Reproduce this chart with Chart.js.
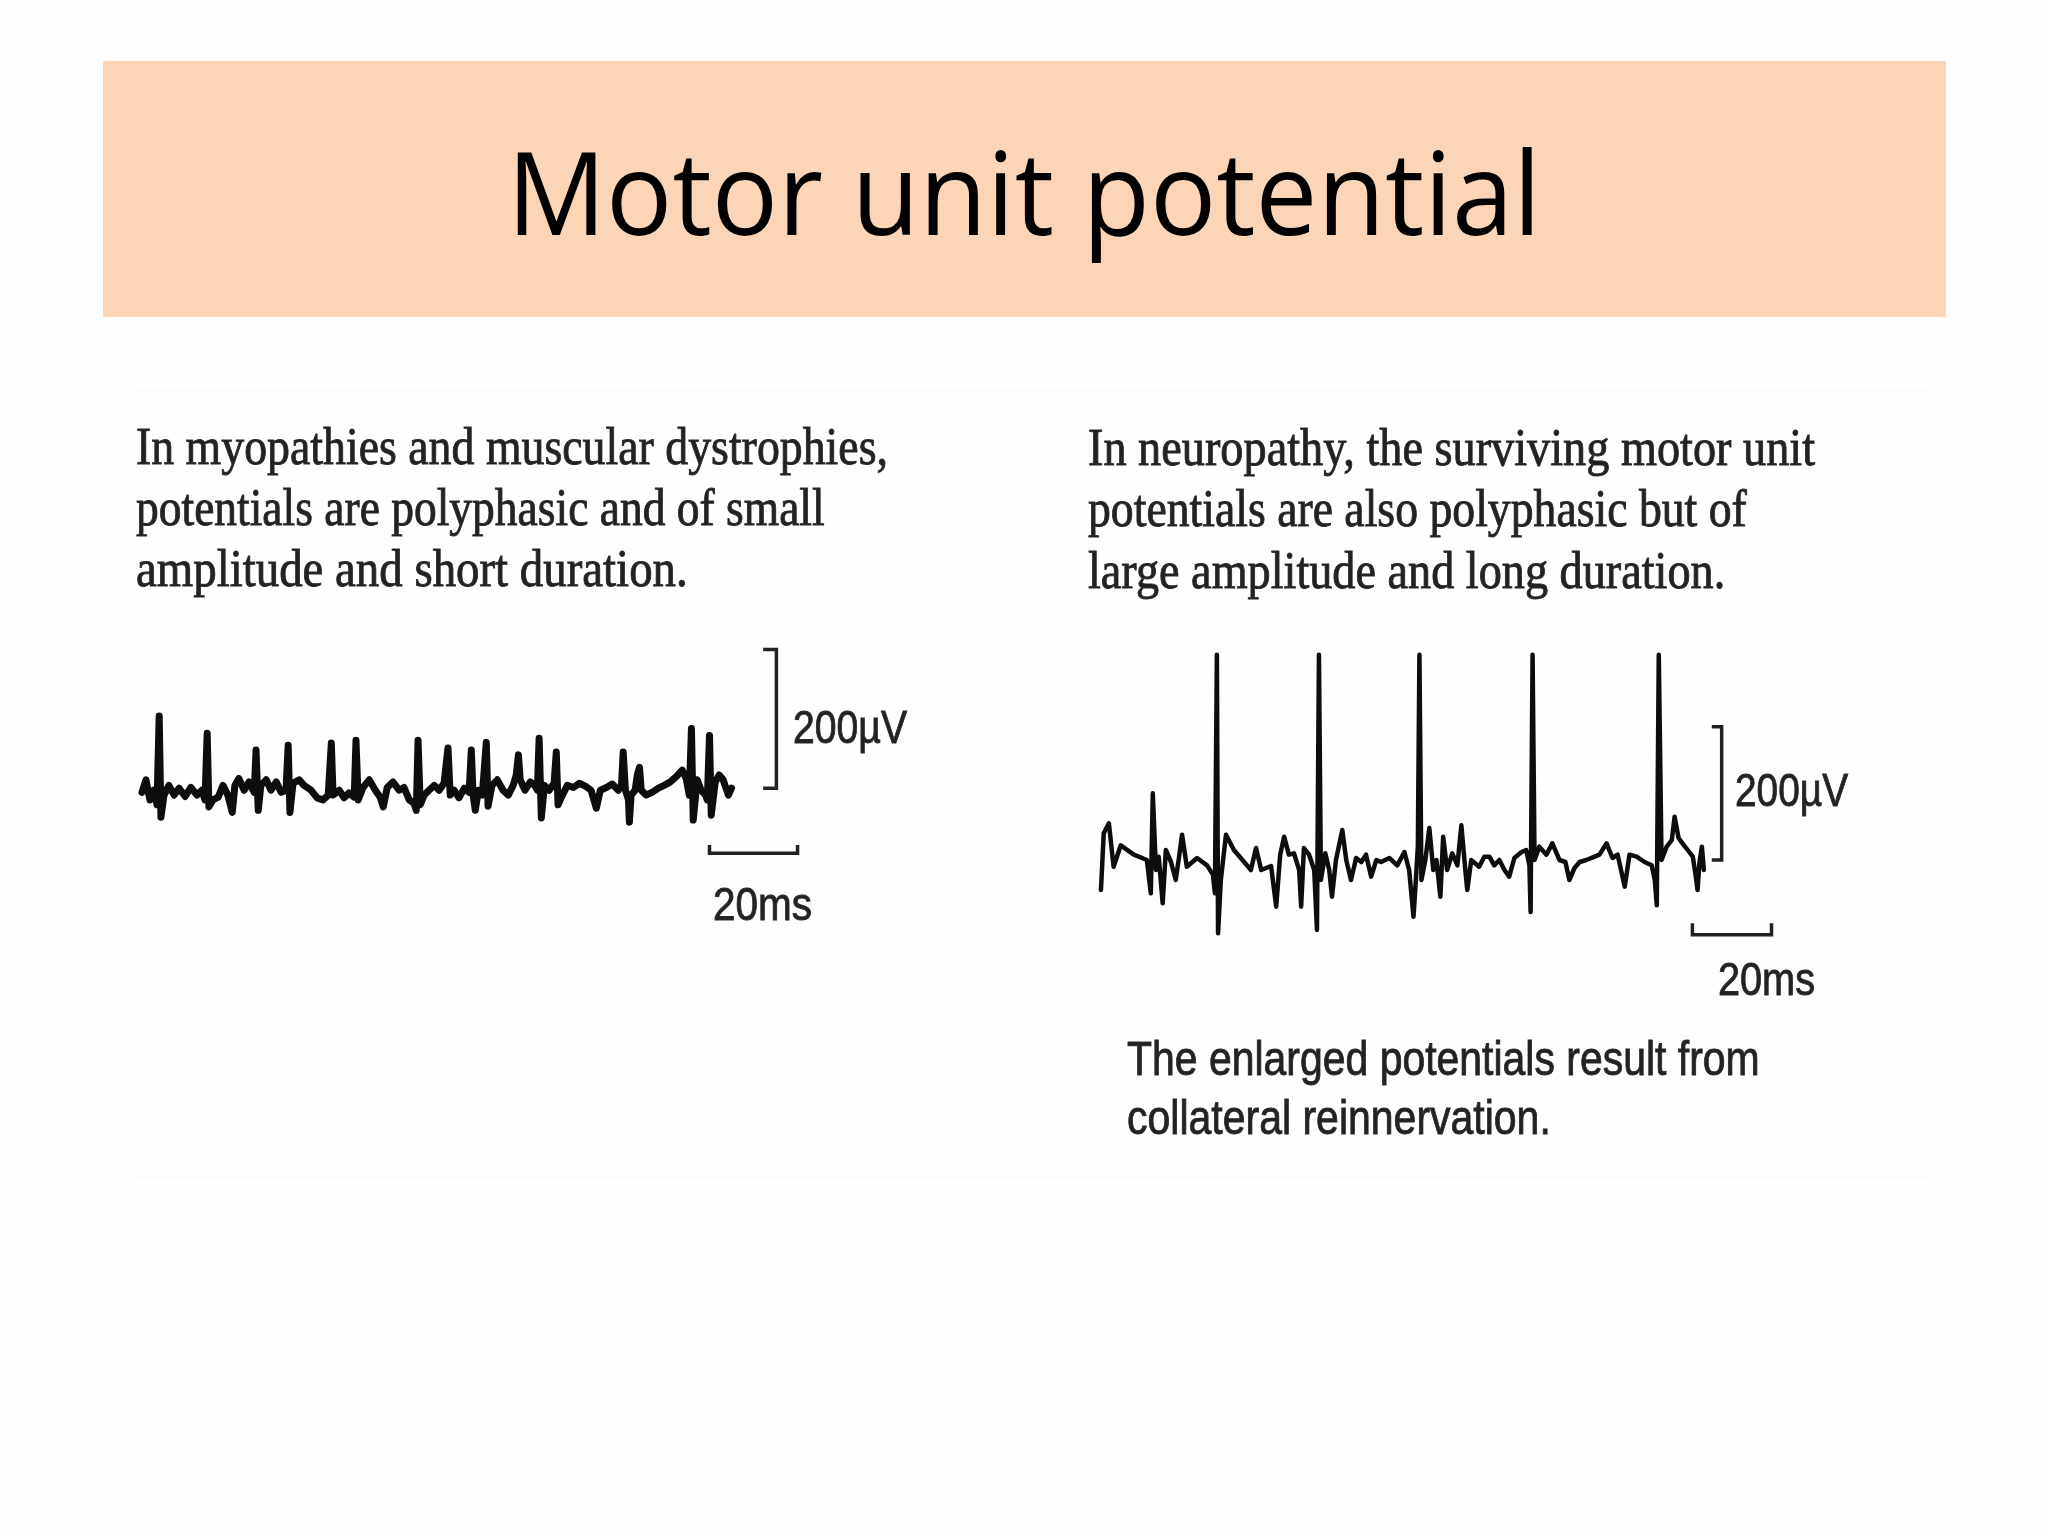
<!DOCTYPE html>
<html>
<head>
<meta charset="utf-8">
<script src="https://cdn.jsdelivr.net/npm/chart.js@4.4.0/dist/chart.umd.min.js"></script>
<style>
  html, body { margin: 0; padding: 0; }
  body { width: 2048px; height: 1536px; background: #fffdfd; position: relative; overflow: hidden; }
  #header { position: absolute; left: 103px; top: 61px; width: 1843px; height: 256px; background: #fbd5b6; }
  #figure { position: absolute; left: 131px; top: 392px; width: 1796px; height: 784px; background: #fffefe; box-shadow: 0 0 3px #f6f2f3; }
  .txt { position: absolute; white-space: nowrap; transform-origin: 0 0; color: #222; }
  .scan { -webkit-text-stroke: 0.9px #2a2a2a; filter: blur(0.5px); }
  canvas { position: absolute; }
</style>
</head>
<body>
<div id="header"></div>
<div id="figure"></div>
<canvas id="left" width="700" height="240" style="left:120px; top:630px; filter: blur(0.6px)"></canvas>
<canvas id="right" width="720" height="330" style="left:1080px; top:630px; filter: blur(0.5px)"></canvas>
<script>
// left trace: myopathy (ms, µV)
const leftTime = [0, 0.9, 1.8, 2.7, 3.4, 3.9, 4.3, 5.0, 6.1, 7.3, 8.4, 9.8, 11.1, 12.5, 13.6, 14.3, 14.8, 15.2, 16.1, 17.3,
  18.4, 19.5, 20.5, 21.1, 22.0, 23.2, 24.3, 25.5, 25.9, 26.4, 27.0, 28.2, 29.3, 30.5, 31.6, 32.7, 33.2, 33.6, 34.3, 35.7,
  36.8, 38.4, 39.8, 41.1, 42.3, 43.0, 43.4, 44.8, 45.9, 47.0, 48.2, 48.6, 49.1, 50.2, 51.6, 53.0, 54.1, 54.8, 55.7, 57.0,
  58.4, 59.5, 60.7, 61.8, 62.3, 62.7, 63.2, 64.1, 65.2, 66.4, 67.5, 68.6, 69.5, 70.0, 70.9, 72.0, 73.2, 74.3, 74.8, 75.2,
  75.7, 76.4, 77.3, 78.2, 78.6, 79.5, 80.7, 82.0, 83.2, 84.3, 85.0, 85.5, 85.9, 87.0, 88.2, 89.3, 89.8, 90.2, 90.7, 91.4,
  92.5, 93.6, 94.1, 94.5, 95.5, 96.6, 98.0, 99.3, 100.7, 102.0, 103.2, 104.1, 105.5, 106.8, 108.2, 108.9, 109.3, 109.8, 110.5, 110.7,
  111.1, 112.0, 112.5, 113.0, 113.4, 114.5, 115.9, 117.3, 118.6, 120.0, 121.4, 122.7, 123.6, 124.3, 124.8, 125.2, 126.1, 127.0, 128.0, 128.4,
  128.9, 129.3, 130.2, 131.1, 132.0, 133.2, 133.9];
const leftValue = [-6, 12, -17, -3, -24, 104, -42, -10, 4, -10, 0, -12, 1, -10, -3, -17, 79, -27, -17, -13,
  4, -10, -35, 4, 14, -3, 9, -6, 55, -32, 4, 12, -3, 9, -6, -3, 62, -35, 7, 12,
  4, -3, -14, -17, -10, 65, -10, -3, -14, -7, -13, 69, -17, 1, 12, -3, -13, -27, 1, 9,
  -3, 1, -17, -22, -32, 69, -24, -10, -3, 4, -3, 7, 58, -10, -3, -14, 0, -6, 55, -10,
  -32, -3, -10, 66, -26, 4, 12, -3, -10, 4, 19, 48, 12, -3, 9, 3, -3, 72, -43, 4,
  -3, 7, 52, -24, -10, 4, 1, 7, 3, -3, -29, -3, 1, 6, -3, 4, 52, -3, -17, -49,
  -10, -3, 19, 30, -3, -10, -6, 0, 4, 9, 17, 26, 14, -10, 86, -46, 12, -3, -10, -17,
  76, -39, 9, 19, 12, -10, 0];

// right trace: neuropathy (ms, µV)
const rightTime = [0.3, 1.0, 2.3, 3.5, 5.3, 8.6, 11.9, 12.9, 13.4, 14.2, 14.9, 15.9, 16.7, 18.0, 19.2, 20.0, 20.8, 22.0, 24.6, 27.1,
  28.6, 29.1, 29.6, 29.9, 30.6, 31.9, 33.9, 36.5, 38.2, 39.5, 40.8, 43.3, 44.6, 45.6, 46.6, 47.8, 49.1, 50.4, 50.9, 51.6,
  52.9, 54.2, 54.9, 55.4, 55.9, 57.0, 58.0, 58.7, 59.7, 61.3, 62.3, 63.5, 64.8, 66.1, 67.3, 68.6, 69.9, 71.1, 73.2, 75.2,
  77.0, 78.2, 79.3, 79.9, 80.4, 80.8, 81.3, 82.3, 83.3, 84.3, 85.1, 86.1, 86.8, 87.8, 89.1, 90.4, 91.4, 92.4, 92.9, 93.9,
  95.9, 97.2, 98.5, 99.7, 101.0, 102.3, 103.5, 104.8, 106.6, 107.8, 108.6, 108.9, 109.4, 109.9, 111.1, 112.9, 114.4, 116.2, 117.7, 118.7,
  120.0, 121.3, 123.0, 125.1, 126.3, 128.1, 129.6, 130.9, 132.7, 133.9, 135.7, 137.7, 139.5, 140.3, 140.8, 141.3, 142.0, 143.3, 144.6, 145.3,
  146.3, 147.3, 148.6, 149.9, 150.6, 151.1, 151.6, 152.2, 152.7];
const rightValue = [-45, 40, 55, -10, 22, 8, 0, -50, 100, -15, 5, -65, 15, -3, -30, 3, 38, -10, 3, -8,
  -22, -50, 308, -110, -30, 38, 15, -3, -15, 18, -15, -9, -70, 8, 35, 8, 10, -15, -70, 18,
  8, -15, -105, 308, -30, 10, -15, -55, 0, 45, 0, -30, 3, -3, 8, -25, 0, -3, 3, -8,
  12, -15, -85, -30, 20, 308, -30, 0, 48, -15, 0, -55, 35, -15, 10, -8, 52, -15, -45, 0,
  -10, 5, 5, -8, 0, -15, -25, 3, 12, 15, -8, -78, 308, 0, 20, 8, 25, 0, -3, -30,
  -12, -3, 0, 5, 8, 25, 3, 8, -40, 8, 5, -3, -8, -30, -68, 308, 0, 20, 30, 65,
  33, 25, 15, 5, -22, -45, -3, 20, -15];

// calibration bars
const leftVoltBar = [{x: 141.1, y: 200}, {x: 144.1, y: 200}, {x: 144.1, y: 0}, {x: 141.1, y: 0}];
const leftTimeBar = [{x: 128.9, y: -82}, {x: 128.9, y: -94}, {x: 148.9, y: -94}, {x: 148.9, y: -82}];
const rightVoltBar = [{x: 154.7, y: 200}, {x: 157.2, y: 200}, {x: 157.2, y: 0}, {x: 154.7, y: 0}];
const rightTimeBar = [{x: 149.8, y: -95}, {x: 149.8, y: -112}, {x: 169.8, y: -112}, {x: 169.8, y: -95}];

function pts(t, v) { return t.map((x, i) => ({x: x, y: v[i]})); }

function trace(id, data, width, bars, xr, yr) {
  new Chart(document.getElementById(id), {
    type: 'line',
    data: {
      datasets: [
        { data: data, borderColor: '#0d0d0d', borderWidth: width, borderJoinStyle: 'round', borderCapStyle: 'round' },
        { data: bars[0], borderColor: '#222', borderWidth: 3.5 },
        { data: bars[1], borderColor: '#222', borderWidth: 3.5 }
      ]
    },
    options: {
      responsive: false,
      animation: false,
      devicePixelRatio: 1,
      layout: { padding: 0 },
      elements: { point: { radius: 0 }, line: { tension: 0 } },
      plugins: { legend: { display: false }, tooltip: { enabled: false } },
      scales: {
        x: { type: 'linear', min: xr[0], max: xr[1], display: false },
        y: { min: yr[0], max: yr[1], display: false }
      }
    }
  });
}

trace('left', pts(leftTime, leftValue), 7, [leftVoltBar, leftTimeBar], [-5, 154], [-118, 228]);
trace('right', pts(rightTime, rightValue), 4.5, [rightVoltBar, rightTimeBar], [-5, 177], [-150, 345]);

// texts: [text, x, baseline, width, size, family, colour]
const serif = '"Liberation Serif", serif';
const sans = '"Liberation Sans", Arial, sans-serif';
const texts = [
  ['Motor unit potential', 507, 235, 1034, 116, '"Open Sans", Lato, sans-serif', '#000', false],
  ['In myopathies and muscular dystrophies,', 136, 464, 752, 52, serif, null, true],
  ['potentials are polyphasic and of small', 136, 525, 689, 52, serif, null, true],
  ['amplitude and short duration.', 136, 586, 552, 52, serif, null, true],
  ['In neuropathy, the surviving motor unit', 1088, 465, 727, 52, serif, null, true],
  ['potentials are also polyphasic but of', 1088, 526, 659, 52, serif, null, true],
  ['large amplitude and long duration.', 1088, 588, 637, 52, serif, null, true],
  ['The enlarged potentials result from', 1127, 1075, 633, 48, sans, null, true],
  ['collateral reinnervation.', 1127, 1134, 424, 48, sans, null, true],
  ['200\u00b5V', 793, 743, 114, 47, sans, null, true],
  ['20ms', 713, 920, 99, 46, sans, null, true],
  ['200\u00b5V', 1735, 806, 113, 47, sans, null, true],
  ['20ms', 1718, 995, 97, 46, sans, null, true]
];

const ctx = document.createElement('canvas').getContext('2d');
texts.forEach(([s, x, base, w, size, fam, col, scan]) => {
  const font = size + 'px ' + fam;
  ctx.font = font;
  const m = ctx.measureText(s);
  const asc = m.fontBoundingBoxAscent, desc = m.fontBoundingBoxDescent;
  const off = (size - (asc + desc)) / 2 + asc;
  const el = document.createElement('div');
  el.className = scan ? 'txt scan' : 'txt';
  el.textContent = s;
  el.style.font = font;
  el.style.lineHeight = size + 'px';
  el.style.left = x + 'px';
  el.style.top = (base - off) + 'px';
  el.style.transform = 'scaleX(' + (w / m.width).toFixed(3) + ')';
  if (col) el.style.color = col;
  document.body.appendChild(el);
});
</script>
</body>
</html>
